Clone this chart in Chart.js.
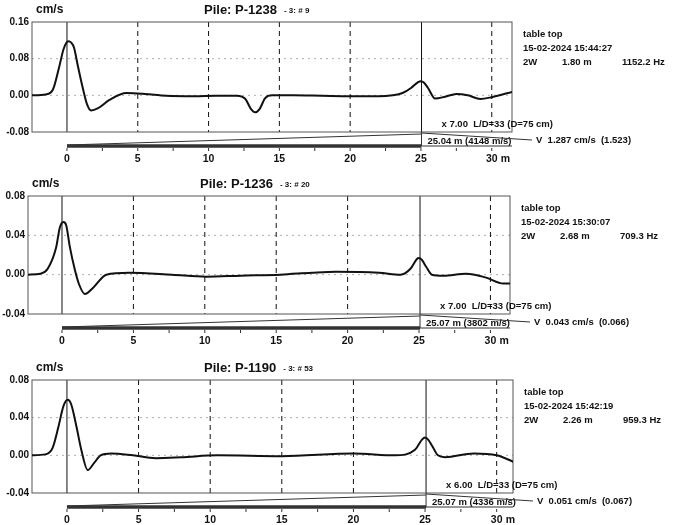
<!DOCTYPE html>
<html>
<head>
<meta charset="utf-8">
<script src="https://cdn.jsdelivr.net/npm/chart.js@4.4.0/dist/chart.umd.min.js"></script>
<style>
  body { margin: 0; background: #fff; }
  canvas { position: absolute; left: 0; }
</style>
</head>
<body>
<canvas id="c0" style="top:0px"></canvas>
<canvas id="c1" style="top:178px"></canvas>
<canvas id="c2" style="top:356px"></canvas>
<script>
// pile data
const piles = ["P-1238", "P-1236", "P-1190"];
const shots = ["- 3: # 9", "- 3: # 20", "- 3: # 53"];
const dates = ["15-02-2024 15:44:27", "15-02-2024 15:30:07", "15-02-2024 15:42:19"];
const hammerDist = ["1.80 m", "2.68 m", "2.26 m"];
const freqs = ["1152.2 Hz", "709.3 Hz", "959.3 Hz"];
const amps = ["x 7.00", "x 7.00", "x 6.00"];
const lengths = ["25.04 m (4148 m/s)", "25.07 m (3802 m/s)", "25.07 m (4336 m/s)"];
const vels = ["V  1.287 cm/s  (1.523)", "V  0.043 cm/s  (0.066)", "V  0.051 cm/s  (0.067)"];
const pileLength = [25.04, 25.07, 25.07];
const yTicks = [[0.16, 0.08, 0.00, -0.08], [0.08, 0.04, 0.00, -0.04], [0.08, 0.04, 0.00, -0.04]];
const xTicks = [0, 5, 10, 15, 20, 25, 30];

const depth1 = [-2.5,-1.5,-1.0,-0.55,-0.25,-0.05,0.1,0.3,0.5,0.77,1.1,1.4,1.7,2.2,3.0,4.2,5.5,7,9,10.5,12,12.6,13.0,13.3,13.6,14.0,14.5,16,18,20,22,23,23.7,24.3,24.8,25,25.2,25.5,26,26.7,27.5,28.3,29.2,30,31.5];
const vel1 = [0,0.002,0.012,0.062,0.1,0.114,0.118,0.115,0.104,0.064,0.018,-0.018,-0.033,-0.028,-0.01,0.005,0.003,-0.001,-0.002,-0.001,-0.001,-0.008,-0.03,-0.037,-0.03,-0.006,0,0,-0.001,-0.002,-0.002,0,0.005,0.016,0.029,0.031,0.028,0.016,-0.007,-0.003,0.003,0.0,-0.008,-0.004,0.008];
const depth2 = [-2.4,-1.5,-1.0,-0.42,-0.15,0.1,0.3,0.54,0.9,1.2,1.6,2.2,3.1,4.7,7.7,10.1,12.5,15.3,17.5,19.2,22.2,23.7,24.4,24.85,25,25.2,25.5,25.9,26.7,28.3,29.7,30.9,31.4];
const vel2 = [0,0.001,0.006,0.027,0.048,0.0535,0.05,0.029,0.005,-0.01,-0.0197,-0.013,0,0.002,0,-0.002,-0.001,0,0.002,0.003,0.002,0,0.006,0.016,0.017,0.015,0.008,0,-0.001,0.001,-0.003,-0.009,-0.009];
const depth3 = [-2.5,-1.5,-1.0,-0.6,-0.25,0.05,0.3,0.67,1.0,1.45,1.9,2.35,3.1,4.6,6.2,8,10.5,15,20,22.9,24.3,24.8,25,25.2,25.5,25.9,26.4,28.4,30,31.2];
const vel3 = [0,0.001,0.008,0.03,0.052,0.059,0.054,0.03,0.006,-0.0157,-0.008,0,0.002,0,-0.003,-0.002,0,-0.001,0.002,0,0.006,0.017,0.019,0.017,0.01,0,-0.002,0.002,0,-0.007];
const depths = [depth1, depth2, depth3];
const vels_ = [vel1, vel2, vel3];

const xRange = [[-2.47, 31.43], [-2.38, 31.37], [-2.44, 31.14]];
const yRange = [[-0.08, 0.16], [-0.04, 0.08], [-0.04, 0.08]];
const heights = [178, 178, 169];
const pads = [
  { left: 32, right: 173, top: 22, bottom: 46 },
  { left: 28, right: 175, top: 18, bottom: 42 },
  { left: 32, right: 172, top: 24, bottom: 32 }
];

const F = 'Liberation Sans, Arial, sans-serif';

function pitPlugin(i) {
  return {
    id: 'pit' + i,
    beforeDatasetsDraw(chart) {
      const { ctx, chartArea: a, scales: { x, y } } = chart;
      ctx.save();
      // horizontal dotted grid
      ctx.strokeStyle = '#999';
      ctx.lineWidth = 0.8;
      ctx.setLineDash([2, 4]);
      yTicks[i].slice(1, 3).forEach(v => {
        ctx.beginPath();
        ctx.moveTo(a.left, y.getPixelForValue(v));
        ctx.lineTo(a.right, y.getPixelForValue(v));
        ctx.stroke();
      });
      // vertical grid
      ctx.strokeStyle = '#111';
      ctx.lineWidth = 1;
      [5, 10, 15, 20, 30].forEach(v => {
        ctx.setLineDash([5, 4]);
        ctx.beginPath();
        ctx.moveTo(x.getPixelForValue(v), a.top);
        ctx.lineTo(x.getPixelForValue(v), a.bottom);
        ctx.stroke();
      });
      ctx.setLineDash([]);
      [0, pileLength[i]].forEach(v => {
        ctx.beginPath();
        ctx.moveTo(x.getPixelForValue(v), a.top);
        ctx.lineTo(x.getPixelForValue(v), a.bottom);
        ctx.stroke();
      });
      ctx.strokeStyle = '#555';
      ctx.strokeRect(a.left, a.top, a.right - a.left, a.bottom - a.top);
      ctx.restore();
    },
    afterDraw(chart) {
      const { ctx, chartArea: a, scales: { x, y } } = chart;
      ctx.save();
      ctx.fillStyle = '#111';
      ctx.textBaseline = 'middle';
      // y tick labels
      ctx.font = 'bold 10px ' + F;
      ctx.textAlign = 'right';
      yTicks[i].forEach(v => ctx.fillText(v.toFixed(2), a.left - 3, y.getPixelForValue(v)));
      // unit + title
      ctx.textAlign = 'left';
      ctx.font = 'bold 12px ' + F;
      ctx.fillText('cm/s', a.left + 4, a.top - 12);
      ctx.font = 'bold 13px ' + F;
      ctx.fillText('Pile: ' + piles[i], a.left + 172, a.top - 12);
      const tw = ctx.measureText('Pile: ' + piles[i]).width;
      ctx.font = 'bold 8px ' + F;
      ctx.fillText(shots[i], a.left + 172 + tw + 7, a.top - 11);
      // right info
      ctx.font = 'bold 9.5px ' + F;
      const rx = a.right + 11;
      ctx.fillText('table top', rx, a.top + 12);
      ctx.fillText(dates[i], rx, a.top + 26);
      ctx.fillText('2W', rx, a.top + 40);
      ctx.fillText(hammerDist[i], rx + 39, a.top + 40);
      ctx.fillText(freqs[i], rx + 99, a.top + 40);
      // lower part
      const x0 = x.getPixelForValue(0), xL = x.getPixelForValue(pileLength[i]);
      const b = a.bottom;
      ctx.font = 'bold 9.5px ' + F;
      ctx.fillText(amps[i] + '  L/D=33 (D=75 cm)', xL + 20, b - 8);
      ctx.fillText(lengths[i], xL + 6, b + 9);
      ctx.fillText(vels[i], a.right + 24, b + 8);
      ctx.strokeStyle = '#333';
      ctx.lineWidth = 1;
      ctx.beginPath();
      ctx.moveTo(xL, b + 1); ctx.lineTo(a.right + 20, b + 8);
      ctx.moveTo(xL, b + 14); ctx.lineTo(a.right, b + 14);
      ctx.moveTo(x0, b + 13); ctx.lineTo(xL, b + 2);
      ctx.moveTo(xL, b); ctx.lineTo(xL, b + 14);
      ctx.stroke();
      ctx.lineWidth = 3.5;
      ctx.beginPath();
      ctx.moveTo(x0, b + 14); ctx.lineTo(xL, b + 14);
      ctx.stroke();
      ctx.lineWidth = 1;
      ctx.beginPath();
      for (let m = 0; m <= 30; m += 2.5) {
        ctx.moveTo(x.getPixelForValue(m), b + 16);
        ctx.lineTo(x.getPixelForValue(m), b + 19);
      }
      ctx.stroke();
      ctx.textAlign = 'center';
      ctx.font = 'bold 10.5px ' + F;
      xTicks.forEach(v => ctx.fillText(String(v), x.getPixelForValue(v), b + 27));
      ctx.textAlign = 'left';
      ctx.fillText('m', x.getPixelForValue(30) + 9, b + 27);
      ctx.restore();
    }
  };
}

for (let i = 0; i < 3; i++) {
  const cv = document.getElementById('c' + i);
  cv.width = 685; cv.height = heights[i];
  cv.style.width = '685px'; cv.style.height = heights[i] + 'px';
  new Chart(cv, {
    type: 'line',
    data: {
      datasets: [{
        data: depths[i].map((d, k) => ({ x: d, y: vels_[i][k] })),
        borderColor: '#111',
        borderWidth: 2,
        pointRadius: 0,
        cubicInterpolationMode: 'monotone',
        fill: false
      }]
    },
    options: {
      responsive: false,
      animation: false,
      devicePixelRatio: 1,
      layout: { padding: pads[i] },
      plugins: { legend: { display: false }, tooltip: { enabled: false } },
      scales: {
        x: { type: 'linear', min: xRange[i][0], max: xRange[i][1], display: false },
        y: { min: yRange[i][0], max: yRange[i][1], display: false }
      }
    },
    plugins: [pitPlugin(i)]
  });
}
</script>
</body>
</html>
